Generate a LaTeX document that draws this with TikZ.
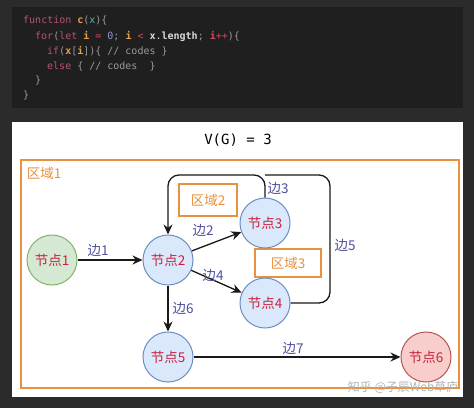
\documentclass[tikz,border=0pt]{standalone}
\usepackage{fontspec}
\setmonofont{DejaVu Sans Mono}
\newfontfamily\cjk{Noto Sans CJK SC}
\usetikzlibrary{arrows.meta}
\definecolor{fond}{HTML}{2B2B2B}
\definecolor{panneau}{HTML}{1F1F1F}
\definecolor{motcle}{HTML}{B8536F}
\definecolor{fonction}{HTML}{E3A24E}
\definecolor{param}{HTML}{5BB5A6}
\definecolor{ponct}{HTML}{9A9A9A}
\definecolor{nombre}{HTML}{9C8FDD}
\definecolor{oper}{HTML}{D44A63}
\definecolor{orange}{HTML}{E8913F}
\definecolor{texterouge}{HTML}{C8233C}
\definecolor{textebleu}{HTML}{4F4F9E}
\definecolor{vertfond}{HTML}{D5E8D4}
\definecolor{verttrait}{HTML}{82B366}
\definecolor{bleufond}{HTML}{DAE8FC}
\definecolor{bleutrait}{HTML}{6C8EBF}
\definecolor{rougefond}{HTML}{F8CECC}
\definecolor{rougetrait}{HTML}{B85450}

\begin{document}
\begin{tikzpicture}[x=1pt,y=-1pt,
        noeud/.style={circle, minimum size=50pt, inner sep=0pt, line width=1pt,
            font=\cjk\fontsize{13.5}{13.5}\selectfont, text=texterouge},%les cercles
        vert/.style={noeud, draw=verttrait, fill=vertfond},
        bleu/.style={noeud, draw=bleutrait, fill=bleufond},
        rouge/.style={noeud, draw=rougetrait, fill=rougefond},
        arete/.style={line width=1.3pt, draw=black!90, -{Stealth[length=10pt,width=9pt]}},
        etiquette/.style={font=\cjk\fontsize{13.5}{13.5}\selectfont, text=textebleu},
        zone/.style={font=\cjk\fontsize{13.5}{13.5}\selectfont, text=orange},
        code/.style={anchor=west, inner sep=0pt, font=\ttfamily\fontsize{10}{10}\selectfont, text=ponct}]
    \useasboundingbox[fill=fond] (0,0) rectangle (474,408);
    \fill[panneau] (12,7) rectangle (463,108);
    \fill[white] (12,122) rectangle (463,397);

    % le code
    \node[code] (l1) at (23,21) {\textcolor{motcle}{function} \textcolor{fonction}{\textbf{c}}(\textcolor{param}{x})\{};
    \node[code] (l2) at (35,36) {\textcolor{motcle}{for}(\textcolor{motcle}{let} \textcolor{fonction}{\textbf{i}} \textcolor{oper}{=} \textcolor{nombre}{0}; \textcolor{fonction}{\textbf{i}} \textcolor{oper}{<} \textcolor{white!85!black}{\textbf{x}.\textbf{length}}; \textcolor{oper}{\textbf{i}++})\{};
    \node[code] (l3) at (47,51) {\textcolor{motcle}{if}(\textcolor{fonction}{\textbf{x}}[\textcolor{fonction}{\textbf{i}}])\{ // codes \}};
    \node[code] (l4) at (47,66) {\textcolor{motcle}{else} \{ // codes \ \}};
    \node[code] (l5) at (35,81) {\}};
    \node[code] (l6) at (23,96) {\}};

    % le graphe
    \node[font=\ttfamily\fontsize{14}{14}\selectfont] (titre) at (238,140) {V(G) = 3};
    \draw[orange, line width=1.3pt] (21,160) rectangle (459,388);
    \node[zone] (z1) at (44,173) {区域1};
    \node[zone, draw=orange, line width=1.3pt, minimum width=58pt, minimum height=32pt] (z2) at (208,200) {区域2};
    \node[zone, draw=orange, line width=1.3pt, minimum width=66pt, minimum height=28pt] (z3) at (288,263) {区域3};

    \node[vert] (n1) at (52,260) {节点1};
    \node[bleu] (n2) at (168,260) {节点2};
    \node[bleu] (n3) at (265,223) {节点3};
    \node[bleu] (n4) at (265,303) {节点4};
    \node[bleu] (n5) at (168,357) {节点5};
    \node[rouge] (n6) at (426,357) {节点6};

    \coordinate (haut3) at (265,175);
    \coordinate (haut2) at (168,175);
    \coordinate (droite4) at (330,303);
    \coordinate (droite5) at (330,175);

    \draw[arete] (n1) -- (n2);
    \draw[arete] (n2) -- (n3);
    \draw[arete, rounded corners=11pt] (n3.north) -- (haut3) -- (haut2) -- (n2.north);
    \draw[arete] (n2) -- (n4);
    \draw[line width=1.3pt, draw=black!90, rounded corners=11pt] (n4.east) -- (droite4) -- (droite5) -- (haut3);
    \draw[arete] (n2) -- (n5);
    \draw[arete] (n5) -- (n6);

    \node[etiquette] (e1) at (98,250) {边1};
    \node[etiquette] (e2) at (203,230) {边2};
    \node[etiquette] (e3) at (278,188) {边3};
    \node[etiquette] (e4) at (213,275) {边4};
    \node[etiquette] (e5) at (345,245) {边5};
    \node[etiquette] (e6) at (183,308) {边6};
    \node[etiquette] (e7) at (293,348) {边7};

    \node[font=\cjk\fontsize{12}{12}\selectfont, text=black!30, anchor=east] (marque) at (462,387) {知乎 @子辰Web草庐};
\end{tikzpicture}
\end{document}
